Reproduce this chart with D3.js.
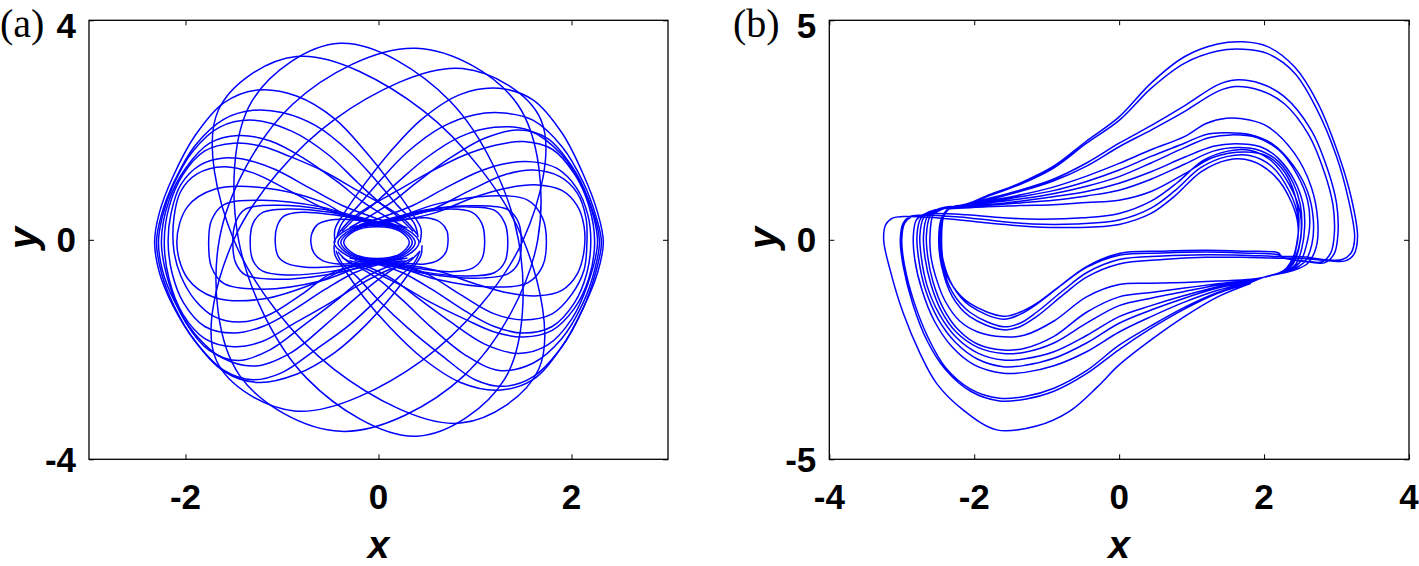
<!DOCTYPE html>
<html><head><meta charset="utf-8">
<script src="https://cdn.jsdelivr.net/npm/d3@7"></script>
<style>body{margin:0;background:#fff}</style>
</head><body>
<svg id="chart" width="1419" height="566"></svg>
<script>
// ---------- tick data ----------
const ticksAX = [-2, 0, 2];
const ticksAY = [-4, 0, 4];
const ticksBX = [-4, -2, 0, 2, 4];
const ticksBY = [-5, 0, 5];

// ---------- panel (a): central rings ----------
const ringsA = [
 [[0.32,-0.05],[0.22,0.16],[-0.02,0.24],[-0.25,0.16],[-0.36,-0.05],[-0.25,-0.26],[-0.02,-0.34],[0.22,-0.26]],
 [[0.35,-0.05],[0.24,0.17],[-0.02,0.26],[-0.27,0.17],[-0.39,-0.05],[-0.27,-0.27],[-0.02,-0.36],[0.24,-0.27]],
 [[0.38,-0.05],[0.26,0.18],[-0.02,0.27],[-0.29,0.18],[-0.42,-0.05],[-0.29,-0.28],[-0.02,-0.37],[0.26,-0.28]],
 [[0.42,-0.05],[0.29,0.19],[-0.02,0.29],[-0.32,0.19],[-0.46,-0.05],[-0.32,-0.29],[-0.02,-0.39],[0.29,-0.29]]
];
// ---------- panel (a): small horizontal lobes ----------
const lobesA = [
 [[-0.2,0.26],[0.05,0.32],[0.3,0.38],[0.5,0.4],[0.64,0.32],[0.71,0.16],[0.72,-0.04],[0.7,-0.22],[0.62,-0.37],[0.48,-0.44],[0.3,-0.43],[0.05,-0.4],[-0.2,-0.35]],
 [[-0.25,0.24],[0.05,0.33],[0.4,0.48],[0.75,0.56],[0.97,0.5],[1.07,0.3],[1.1,-0.04],[1.07,-0.35],[0.97,-0.52],[0.75,-0.58],[0.4,-0.52],[0.05,-0.42],[-0.25,-0.34]],
 [[-0.1,0.29],[0.15,0.36],[0.45,0.52],[0.9,0.6],[1.2,0.54],[1.31,0.3],[1.34,-0.04],[1.31,-0.4],[1.2,-0.6],[0.9,-0.66],[0.45,-0.58],[0.15,-0.45],[-0.1,-0.4]],
 [[-0.3,0.22],[0.0,0.33],[0.5,0.55],[1.0,0.62],[1.34,0.55],[1.45,0.32],[1.48,-0.04],[1.45,-0.42],[1.34,-0.62],[1.0,-0.7],[0.5,-0.62],[0.0,-0.43],[-0.3,-0.33]],
 [[-0.15,0.28],[0.15,0.38],[0.6,0.65],[1.15,0.8],[1.55,0.72],[1.7,0.4],[1.74,-0.04],[1.7,-0.48],[1.55,-0.78],[1.15,-0.86],[0.6,-0.72],[0.15,-0.47],[-0.15,-0.4]],
 [[0.2,0.26],[-0.05,0.32],[-0.3,0.37],[-0.5,0.36],[-0.63,0.28],[-0.69,0.12],[-0.7,-0.06],[-0.67,-0.24],[-0.58,-0.38],[-0.42,-0.44],[-0.25,-0.43],[0.0,-0.4],[0.2,-0.35]],
 [[0.25,0.24],[-0.05,0.33],[-0.45,0.45],[-0.8,0.5],[-0.98,0.43],[-1.05,0.25],[-1.07,-0.04],[-1.04,-0.3],[-0.95,-0.43],[-0.75,-0.5],[-0.4,-0.48],[-0.05,-0.42],[0.25,-0.33]],
 [[0.1,0.29],[-0.15,0.36],[-0.5,0.5],[-0.95,0.56],[-1.2,0.5],[-1.3,0.3],[-1.33,-0.04],[-1.3,-0.38],[-1.2,-0.57],[-0.95,-0.64],[-0.5,-0.58],[-0.15,-0.45],[0.1,-0.4]],
 [[0.3,0.22],[0.0,0.33],[-0.55,0.55],[-1.05,0.63],[-1.38,0.56],[-1.48,0.32],[-1.51,-0.04],[-1.48,-0.42],[-1.38,-0.64],[-1.05,-0.72],[-0.55,-0.64],[0.0,-0.43],[0.3,-0.33]],
 [[0.15,0.28],[-0.15,0.38],[-0.6,0.6],[-1.2,0.72],[-1.6,0.64],[-1.73,0.36],[-1.76,-0.04],[-1.73,-0.5],[-1.6,-0.8],[-1.2,-0.9],[-0.6,-0.75],[-0.15,-0.47],[0.15,-0.4]]
];
// ---------- panel (a): wide wings (right side, then left side) ----------
const wingsA = [
 [[-0.45,-0.05],[-0.45,0.2],[-0.35,0.5],[-0.15,1.0],[0.12,1.6],[0.45,2.2],[0.85,2.65],[1.25,2.76],[1.6,2.55],[1.9,1.95],[2.12,1.2],[2.27,0.5],[2.33,-0.04],[2.27,-0.6],[2.12,-1.25],[1.9,-1.95],[1.6,-2.55],[1.25,-2.74],[0.85,-2.6],[0.45,-2.15],[0.12,-1.6],[-0.15,-1.05],[-0.35,-0.55],[-0.45,-0.28],[-0.46,-0.1]],
 [[-0.43,0.05],[-0.38,0.3],[-0.22,0.6],[0.0,1.05],[0.3,1.6],[0.65,2.05],[1.0,2.28],[1.3,2.31],[1.6,2.18],[1.9,1.7],[2.12,1.05],[2.25,0.45],[2.31,-0.04],[2.25,-0.6],[2.12,-1.25],[1.9,-1.95],[1.6,-2.5],[1.3,-2.67],[1.0,-2.55],[0.65,-2.1],[0.3,-1.6],[0.0,-1.1],[-0.22,-0.68],[-0.38,-0.42],[-0.44,-0.2]],
 [[-0.38,0.15],[-0.25,0.38],[-0.05,0.65],[0.2,1.05],[0.5,1.5],[0.85,1.88],[1.2,2.05],[1.55,2.0],[1.9,1.55],[2.12,0.95],[2.24,0.42],[2.29,-0.04],[2.24,-0.55],[2.12,-1.15],[1.9,-1.8],[1.6,-2.25],[1.25,-2.38],[0.9,-2.1],[0.55,-1.6],[0.25,-1.1],[0.0,-0.72],[-0.22,-0.48],[-0.38,-0.32]],
 [[-0.3,0.22],[-0.1,0.42],[0.15,0.7],[0.4,1.05],[0.75,1.5],[1.1,1.85],[1.45,2.0],[1.75,1.85],[2.0,1.35],[2.17,0.75],[2.27,-0.04],[2.17,-0.8],[2.0,-1.45],[1.75,-1.92],[1.45,-2.07],[1.1,-1.9],[0.75,-1.5],[0.4,-1.05],[0.15,-0.72],[-0.1,-0.5],[-0.3,-0.38]],
 [[-0.42,0.1],[-0.3,0.35],[-0.1,0.6],[0.2,0.9],[0.55,1.25],[0.9,1.55],[1.2,1.72],[1.5,1.79],[1.8,1.65],[2.03,1.2],[2.18,0.62],[2.24,-0.04],[2.18,-0.7],[2.03,-1.25],[1.8,-1.65],[1.5,-1.77],[1.2,-1.68],[0.9,-1.45],[0.55,-1.15],[0.2,-0.8],[-0.1,-0.55],[-0.3,-0.42],[-0.42,-0.22]],
 [[-0.2,0.27],[0.05,0.42],[0.35,0.62],[0.7,0.95],[1.05,1.25],[1.35,1.4],[1.6,1.42],[1.85,1.3],[2.05,0.95],[2.17,0.45],[2.2,-0.04],[2.16,-0.6],[2.03,-1.15],[1.8,-1.58],[1.5,-1.7],[1.2,-1.58],[0.9,-1.3],[0.55,-0.9],[0.25,-0.6],[0.0,-0.45],[-0.25,-0.38]],
 [[-0.15,0.28],[0.2,0.38],[0.55,0.55],[0.95,0.9],[1.3,1.18],[1.6,1.27],[1.88,1.15],[2.06,0.85],[2.15,0.4],[2.16,-0.04],[2.13,-0.55],[2.0,-1.0],[1.8,-1.35],[1.5,-1.46],[1.2,-1.35],[0.85,-1.0],[0.5,-0.62],[0.2,-0.45],[-0.15,-0.4]],
 [[-0.1,0.29],[0.25,0.36],[0.6,0.5],[1.0,0.78],[1.35,0.95],[1.65,1.0],[1.9,0.9],[2.06,0.62],[2.13,0.25],[2.13,-0.2],[2.06,-0.62],[1.9,-0.92],[1.65,-1.02],[1.35,-0.97],[1.0,-0.8],[0.6,-0.56],[0.25,-0.45],[-0.1,-0.4]],
 [[0.43,-0.05],[0.44,0.2],[0.34,0.5],[0.14,1.0],[-0.13,1.6],[-0.45,2.2],[-0.85,2.62],[-1.25,2.73],[-1.6,2.5],[-1.9,1.9],[-2.13,1.15],[-2.27,0.5],[-2.32,-0.04],[-2.27,-0.6],[-2.13,-1.2],[-1.9,-1.85],[-1.6,-2.4],[-1.25,-2.6],[-0.85,-2.45],[-0.45,-2.05],[-0.13,-1.55],[0.14,-1.02],[0.34,-0.55],[0.44,-0.28],[0.45,-0.1]],
 [[0.41,0.05],[0.37,0.3],[0.21,0.6],[-0.01,1.05],[-0.3,1.6],[-0.65,2.08],[-1.0,2.32],[-1.3,2.36],[-1.6,2.2],[-1.9,1.72],[-2.12,1.05],[-2.25,0.45],[-2.3,-0.04],[-2.25,-0.6],[-2.12,-1.2],[-1.9,-1.85],[-1.6,-2.38],[-1.3,-2.55],[-1.0,-2.42],[-0.65,-2.0],[-0.3,-1.55],[-0.01,-1.08],[0.21,-0.68],[0.37,-0.42],[0.43,-0.2]],
 [[0.36,0.15],[0.23,0.38],[0.03,0.65],[-0.22,1.05],[-0.52,1.55],[-0.9,1.98],[-1.3,2.18],[-1.65,2.05],[-1.93,1.6],[-2.13,0.98],[-2.24,0.42],[-2.28,-0.04],[-2.24,-0.55],[-2.12,-1.1],[-1.9,-1.72],[-1.62,-2.15],[-1.28,-2.3],[-0.9,-2.05],[-0.55,-1.55],[-0.25,-1.08],[0.0,-0.72],[0.2,-0.48],[0.36,-0.32]],
 [[0.28,0.22],[0.08,0.42],[-0.17,0.7],[-0.42,1.05],[-0.77,1.48],[-1.12,1.8],[-1.45,1.9],[-1.75,1.76],[-2.0,1.3],[-2.17,0.72],[-2.25,-0.04],[-2.17,-0.8],[-2.0,-1.5],[-1.75,-2.02],[-1.45,-2.2],[-1.12,-2.0],[-0.77,-1.55],[-0.42,-1.08],[-0.17,-0.72],[0.08,-0.5],[0.28,-0.38]],
 [[0.4,0.1],[0.28,0.35],[0.08,0.6],[-0.22,0.9],[-0.57,1.25],[-0.92,1.52],[-1.2,1.7],[-1.5,1.76],[-1.8,1.62],[-2.03,1.18],[-2.17,0.6],[-2.22,-0.04],[-2.17,-0.72],[-2.03,-1.35],[-1.8,-1.8],[-1.5,-1.95],[-1.2,-1.85],[-0.9,-1.55],[-0.55,-1.2],[-0.2,-0.82],[0.1,-0.55],[0.3,-0.42],[0.42,-0.22]],
 [[0.18,0.27],[-0.07,0.42],[-0.37,0.62],[-0.72,0.95],[-1.07,1.28],[-1.35,1.45],[-1.6,1.49],[-1.85,1.36],[-2.05,1.0],[-2.15,0.48],[-2.18,-0.04],[-2.14,-0.6],[-2.02,-1.15],[-1.8,-1.58],[-1.5,-1.7],[-1.2,-1.58],[-0.9,-1.3],[-0.55,-0.9],[-0.25,-0.6],[0.0,-0.45],[0.25,-0.38]],
 [[0.13,0.28],[-0.2,0.38],[-0.55,0.56],[-0.95,0.92],[-1.3,1.22],[-1.6,1.33],[-1.88,1.2],[-2.05,0.88],[-2.12,0.4],[-2.12,-0.2],[-2.05,-0.65],[-1.9,-1.1],[-1.7,-1.4],[-1.45,-1.5],[-1.15,-1.38],[-0.8,-1.0],[-0.5,-0.62],[-0.2,-0.45],[0.13,-0.4]],
 [[0.08,0.29],[-0.25,0.37],[-0.6,0.7],[-1.2,0.95],[-1.7,0.92],[-1.98,0.6],[-2.09,-0.04],[-1.98,-0.7],[-1.7,-1.05],[-1.2,-1.08],[-0.6,-0.75],[-0.25,-0.46],[0.08,-0.4]]
];
// ---------- panel (a): tall tilted loops ----------
const tallA = [
 [[1.45,0],[0.74,2.53],[-0.4,3.58],[-1.31,2.53],[-1.45,0],[-0.74,-2.53],[0.4,-3.58],[1.31,-2.53]],
 [[1.65,0],[1.44,2.47],[0.39,3.49],[-0.89,2.47],[-1.65,0],[-1.44,-2.47],[-0.39,-3.49],[0.89,-2.47]],
 [[1.5,0],[0.46,2.36],[-0.85,3.34],[-1.66,2.36],[-1.5,0],[-0.46,-2.36],[0.85,-3.34],[1.66,-2.36]],
 [[1.5,0],[1.68,2.2],[0.87,3.12],[-0.45,2.2],[-1.5,0],[-1.68,-2.2],[-0.87,-3.12],[0.45,-2.2]]
];

// ---------- panel (b): lower half-orbits (right turn -> left turn) ----------
const bottomArcsB = [
 [[1.82,-0.99],[1.36,-1.3],[0.9,-1.75],[0.44,-2.28],[0,-2.85],[-0.3,-3.35],[-0.68,-3.9],[-1.14,-4.24],[-1.69,-4.33],[-2.15,-3.88],[-2.52,-3.27],[-2.75,-2.58],[-2.98,-1.67],[-3.16,-0.69],[-3.25,0.0],[-3.22,0.35],[-3.12,0.5],[-2.98,0.53]],
 [[1.82,-0.94],[1.36,-1.1],[0.9,-1.33],[0.44,-1.6],[0,-1.9],[-0.45,-2.35],[-0.9,-2.7],[-1.3,-2.86],[-1.6,-2.89],[-1.95,-2.72],[-2.25,-2.35],[-2.5,-1.8],[-2.68,-1.1],[-2.77,-0.4],[-2.79,0.1],[-2.74,0.48],[-2.62,0.64],[-2.45,0.7]],
 [[2.2,-0.42],[1.7,-0.4],[1.2,-0.4],[0.6,-0.45],[0,-0.55],[-0.45,-0.85],[-0.77,-1.25],[-1.14,-1.75],[-1.37,-1.98],[-1.6,-2.05],[-2.06,-1.75],[-2.3,-1.3],[-2.45,-0.6],[-2.49,0.05],[-2.45,0.5],[-2.36,0.7],[-2.2,0.78]],
 [[1.82,-0.97],[1.36,-1.22],[0.9,-1.58],[0.44,-2.02],[0,-2.5],[-0.45,-3.05],[-0.9,-3.45],[-1.3,-3.63],[-1.65,-3.67],[-2.05,-3.45],[-2.4,-2.95],[-2.65,-2.3],[-2.85,-1.45],[-2.98,-0.6],[-3.02,0.0],[-2.98,0.38],[-2.88,0.53],[-2.75,0.56]],
 [[1.82,-0.93],[1.36,-1.07],[0.9,-1.27],[0.44,-1.5],[0,-1.75],[-0.45,-2.18],[-0.9,-2.55],[-1.3,-2.71],[-1.6,-2.74],[-1.95,-2.58],[-2.25,-2.22],[-2.48,-1.7],[-2.65,-1.05],[-2.73,-0.4],[-2.75,0.1],[-2.7,0.5],[-2.58,0.66],[-2.4,0.72]],
 [[2.2,-0.38],[1.7,-0.35],[1.2,-0.34],[0.6,-0.37],[0,-0.45],[-0.45,-0.75],[-0.77,-1.15],[-1.14,-1.65],[-1.37,-1.9],[-1.6,-1.98],[-2.06,-1.65],[-2.3,-1.2],[-2.44,-0.55],[-2.47,0.07],[-2.43,0.52],[-2.34,0.72],[-2.18,0.79]],
 [[1.82,-0.96],[1.36,-1.2],[0.9,-1.54],[0.44,-1.96],[0,-2.4],[-0.45,-2.98],[-0.9,-3.38],[-1.3,-3.57],[-1.65,-3.61],[-2.05,-3.4],[-2.4,-2.9],[-2.63,-2.25],[-2.83,-1.42],[-2.96,-0.6],[-3.0,0.0],[-2.96,0.38],[-2.86,0.53],[-2.72,0.56]],
 [[1.82,-0.92],[1.36,-1.03],[0.9,-1.18],[0.44,-1.33],[0,-1.5],[-0.45,-1.9],[-0.9,-2.35],[-1.3,-2.56],[-1.6,-2.59],[-1.95,-2.45],[-2.25,-2.1],[-2.46,-1.6],[-2.6,-1.0],[-2.68,-0.4],[-2.7,0.1],[-2.65,0.52],[-2.53,0.68],[-2.35,0.74]],
 [[2.2,-0.34],[1.7,-0.3],[1.2,-0.28],[0.6,-0.3],[0,-0.35],[-0.45,-0.63],[-0.77,-1.0],[-1.14,-1.47],[-1.37,-1.7],[-1.6,-1.81],[-2.06,-1.5],[-2.29,-1.07],[-2.43,-0.46],[-2.45,0.07],[-2.42,0.53],[-2.33,0.72],[-2.15,0.79]],
 [[1.82,-0.95],[1.36,-1.15],[0.9,-1.42],[0.44,-1.75],[0,-2.1],[-0.45,-2.55],[-0.9,-2.87],[-1.3,-3.02],[-1.6,-3.04],[-2.0,-2.85],[-2.3,-2.45],[-2.55,-1.85],[-2.72,-1.15],[-2.82,-0.45],[-2.84,0.1],[-2.8,0.45],[-2.7,0.58],[-2.55,0.62]],
 [[1.82,-0.91],[1.36,-1.0],[0.9,-1.1],[0.44,-1.2],[0,-1.3],[-0.45,-1.65],[-0.9,-2.2],[-1.3,-2.47],[-1.6,-2.51],[-1.95,-2.38],[-2.22,-2.05],[-2.43,-1.55],[-2.57,-0.95],[-2.64,-0.4],[-2.66,0.1],[-2.61,0.54],[-2.5,0.7],[-2.32,0.75]],
 [[2.2,-0.3],[1.7,-0.26],[1.2,-0.24],[0.6,-0.26],[0,-0.31],[-0.45,-0.61],[-0.77,-0.99],[-1.14,-1.45],[-1.37,-1.65],[-1.6,-1.74],[-2.06,-1.45],[-2.29,-1.07],[-2.45,-0.46],[-2.47,0.07],[-2.43,0.53],[-2.34,0.72],[-2.15,0.79]],
 [[1.82,-0.9],[1.36,-0.94],[0.9,-0.97],[0.44,-0.99],[0,-1.02],[-0.45,-1.3],[-0.9,-1.85],[-1.3,-2.17],[-1.6,-2.21],[-1.95,-2.1],[-2.2,-1.85],[-2.4,-1.4],[-2.53,-0.85],[-2.6,-0.35],[-2.61,0.1],[-2.57,0.55],[-2.46,0.72],[-2.3,0.76]]
];
// ---------- panel (b): upper half-orbits (left turn -> right turn) ----------
const topArcsB = [
 [[-2.7,0.52],[-2.3,0.47],[-1.8,0.38],[-1.2,0.3],[-0.6,0.28],[0,0.35],[0.44,0.6],[0.77,1.0],[1.13,1.55],[1.5,1.82],[1.82,1.8],[2.15,1.45],[2.38,0.85],[2.47,0.3],[2.42,-0.31],[2.28,-0.69],[2.0,-0.85]],
 [[-2.15,0.79],[-1.83,1.0],[-1.37,1.29],[-0.91,1.67],[-0.45,2.25],[0,2.8],[0.44,3.57],[0.9,4.17],[1.36,4.46],[1.71,4.51],[2.05,4.4],[2.42,3.94],[2.74,3.12],[3.02,1.98],[3.2,0.98],[3.29,0.07],[3.24,-0.33],[3.12,-0.48],[2.9,-0.48],[2.5,-0.42]],
 [[-2.3,0.74],[-1.83,0.88],[-1.37,1.02],[-0.91,1.2],[-0.45,1.45],[0,1.74],[0.44,2.05],[0.9,2.35],[1.2,2.65],[1.48,2.77],[1.8,2.73],[2.05,2.58],[2.42,1.97],[2.65,1.21],[2.74,0.45],[2.72,-0.16],[2.6,-0.54],[2.36,-0.72],[2.0,-0.85]],
 [[-2.6,0.56],[-2.2,0.52],[-1.7,0.43],[-1.2,0.36],[-0.6,0.36],[0,0.45],[0.44,0.72],[0.77,1.12],[1.13,1.65],[1.5,1.9],[1.8,1.92],[2.1,1.68],[2.35,1.1],[2.47,0.5],[2.45,-0.1],[2.35,-0.6],[2.2,-0.76],[2.0,-0.85]],
 [[-2.2,0.77],[-1.83,0.98],[-1.37,1.26],[-0.91,1.63],[-0.45,2.2],[0,2.72],[0.44,3.45],[0.9,4.02],[1.36,4.3],[1.71,4.34],[2.05,4.24],[2.42,3.8],[2.72,3.0],[3.0,1.9],[3.16,0.95],[3.25,0.05],[3.2,-0.3],[3.08,-0.45],[2.88,-0.46],[2.5,-0.38]],
 [[-2.3,0.73],[-1.83,0.85],[-1.37,0.98],[-0.91,1.12],[-0.45,1.33],[0,1.59],[0.44,1.9],[0.9,2.2],[1.2,2.4],[1.45,2.44],[1.8,2.4],[2.1,2.2],[2.4,1.7],[2.6,1.1],[2.68,0.45],[2.66,-0.1],[2.56,-0.5],[2.36,-0.7],[2.0,-0.85]],
 [[-2.55,0.6],[-2.1,0.57],[-1.6,0.5],[-1.1,0.47],[-0.5,0.5],[0,0.6],[0.44,0.88],[0.8,1.3],[1.15,1.8],[1.5,2.02],[1.8,2.04],[2.1,1.8],[2.35,1.25],[2.5,0.6],[2.5,0.0],[2.4,-0.5],[2.25,-0.73],[2.0,-0.85]],
 [[-2.2,0.78],[-1.83,0.93],[-1.37,1.13],[-0.91,1.38],[-0.45,1.75],[0,2.2],[0.44,2.6],[0.9,3.05],[1.36,3.53],[1.6,3.64],[1.95,3.56],[2.28,3.26],[2.65,2.5],[2.88,1.59],[3.0,0.83],[3.02,0.15],[2.97,-0.31],[2.84,-0.52],[2.6,-0.5],[2.3,-0.42]],
 [[-2.35,0.72],[-1.83,0.83],[-1.37,0.93],[-0.91,1.05],[-0.45,1.22],[0,1.44],[0.44,1.75],[0.9,2.1],[1.25,2.33],[1.55,2.39],[1.9,2.33],[2.2,2.05],[2.45,1.5],[2.6,0.9],[2.63,0.35],[2.58,-0.15],[2.5,-0.5],[2.33,-0.7],[2.0,-0.85]],
 [[-2.4,0.72],[-1.83,0.8],[-1.37,0.88],[-0.91,0.98],[-0.45,1.1],[0,1.29],[0.44,1.55],[0.9,1.88],[1.3,2.13],[1.6,2.19],[1.95,2.12],[2.2,1.85],[2.42,1.35],[2.54,0.8],[2.56,0.3],[2.52,-0.2],[2.44,-0.55],[2.3,-0.72],[2.0,-0.85]],
 [[-2.25,0.76],[-1.83,0.9],[-1.37,1.1],[-0.91,1.34],[-0.45,1.68],[0,2.12],[0.44,2.5],[0.9,2.92],[1.36,3.38],[1.6,3.49],[1.95,3.4],[2.28,3.1],[2.62,2.38],[2.84,1.5],[2.95,0.8],[2.97,0.15],[2.92,-0.3],[2.8,-0.5],[2.55,-0.48],[2.25,-0.4]],
 [[-2.4,0.72],[-1.83,0.78],[-1.37,0.84],[-0.91,0.9],[-0.45,1.0],[0,1.13],[0.44,1.38],[0.9,1.72],[1.3,2.02],[1.65,2.1],[1.95,2.03],[2.2,1.78],[2.4,1.3],[2.5,0.8],[2.52,0.3],[2.48,-0.2],[2.4,-0.55],[2.28,-0.72],[2.0,-0.85]],
 [[-2.4,0.71],[-1.83,0.75],[-1.37,0.78],[-0.91,0.8],[-0.45,0.85],[0,0.9],[0.44,1.1],[0.9,1.5],[1.3,1.88],[1.75,2.0],[2.05,1.9],[2.28,1.55],[2.42,1.05],[2.48,0.5],[2.46,0.0],[2.4,-0.45],[2.28,-0.7],[2.0,-0.85]]
];

// ---------- layout ----------
const svg = d3.select("#chart");
const blue = "#0000ff";
const panels = [
  {id:"a", xd:[-3,3], yd:[-4,4], xr:[89,668], xt:ticksAX, yt:ticksAY, tag:"(a)", tagX:0},
  {id:"b", xd:[-4,4], yd:[-5,5], xr:[829.3,1409], xt:ticksBX, yt:ticksBY, tag:"(b)", tagX:733}
];
const yRange = [459.3, 20.3];

panels.forEach(p => {
  p.x = d3.scaleLinear().domain(p.xd).range(p.xr);
  p.y = d3.scaleLinear().domain(p.yd).range(yRange);
  const g = svg.append("g");
  const clipId = "clip" + p.id;
  svg.append("clipPath").attr("id", clipId).append("rect")
    .attr("x", p.xr[0]).attr("y", yRange[1]).attr("width", p.xr[1]-p.xr[0]).attr("height", yRange[0]-yRange[1]);
  p.plot = g.append("g").attr("clip-path", `url(#${clipId})`);
  p.g = g;
});

// ---------- draw panel (a) ----------
{
  const p = panels[0];
  const open = d3.line().x(d => p.x(d[0])).y(d => p.y(d[1])).curve(d3.curveCatmullRom.alpha(0.5));
  const closed = d3.line().x(d => p.x(d[0])).y(d => p.y(d[1])).curve(d3.curveCatmullRomClosed.alpha(0.5));
  const style = s => s.attr("fill","none").attr("stroke",blue).attr("stroke-width",1.5);
  p.plot.selectAll("path.ring").data(ringsA).join("path").attr("class","ring").attr("d", closed).call(style);
  p.plot.selectAll("path.tall").data(tallA).join("path").attr("class","tall").attr("d", closed).call(style);
  p.plot.selectAll("path.wing").data(wingsA).join("path").attr("class","wing").attr("d", open).call(style);
  p.plot.selectAll("path.lobe").data(lobesA).join("path").attr("class","lobe").attr("d", open).call(style);
}
// ---------- draw panel (b) ----------
{
  const p = panels[1];
  const traj = [];
  bottomArcsB.forEach((b, i) => { traj.push(...b); traj.push(...topArcsB[i]); });
  const open = d3.line().x(d => p.x(d[0])).y(d => p.y(d[1])).curve(d3.curveCatmullRom.alpha(0.5));
  p.plot.append("path").datum(traj).attr("d", open)
    .attr("fill","none").attr("stroke",blue).attr("stroke-width",1.5);
}

// ---------- frames, ticks, labels ----------
const tickFont = "'Liberation Sans', Arial, Helvetica, sans-serif";
panels.forEach(p => {
  const g = p.g;
  const [x0,x1] = p.xr, [yb0, yt0] = yRange;
  g.append("g").attr("transform",`translate(0,${yb0})`)
    .call(d3.axisBottom(p.x).tickValues(p.xt).tickSizeInner(-5).tickSizeOuter(0).tickFormat(""))
    .call(s => s.select(".domain").remove());
  g.append("g").attr("transform",`translate(0,${yt0})`)
    .call(d3.axisTop(p.x).tickValues(p.xt).tickSizeInner(-5).tickSizeOuter(0).tickFormat(""))
    .call(s => s.select(".domain").remove());
  g.append("g").attr("transform",`translate(${x0},0)`)
    .call(d3.axisLeft(p.y).tickValues(p.yt).tickSizeInner(-5).tickSizeOuter(0).tickFormat(""))
    .call(s => s.select(".domain").remove());
  g.append("g").attr("transform",`translate(${x1},0)`)
    .call(d3.axisRight(p.y).tickValues(p.yt).tickSizeInner(-5).tickSizeOuter(0).tickFormat(""))
    .call(s => s.select(".domain").remove());
  g.selectAll(".tick line").attr("stroke","#000").attr("stroke-width",1);
  g.append("rect").attr("x",x0).attr("y",yt0).attr("width",x1-x0).attr("height",yb0-yt0)
    .attr("fill","none").attr("stroke","#000").attr("stroke-width",1.3);

  g.selectAll("text.xt").data(p.xt).join("text").attr("class","xt")
    .attr("x", d => p.x(d)).attr("y", 496).attr("text-anchor","middle").attr("dominant-baseline","central")
    .attr("font-family", tickFont).attr("font-weight","bold").attr("font-size",35).text(d => String(d));
  g.selectAll("text.yt").data(p.yt).join("text").attr("class","yt")
    .attr("x", x0 - 13).attr("y", d => p.y(d) + (d === p.yd[1] ? 5 : 0)).attr("text-anchor","end").attr("dominant-baseline","central")
    .attr("font-family", tickFont).attr("font-weight","bold").attr("font-size",35).text(d => String(d));
  g.append("text").attr("x", (x0+x1)/2).attr("y", 558).attr("text-anchor","middle")
    .attr("font-family", tickFont).attr("font-weight","bold").attr("font-style","italic").attr("font-size",39).text("x");
  g.append("text").attr("transform",`translate(${x0-66},238) rotate(-90)`).attr("text-anchor","middle").attr("dominant-baseline","central")
    .attr("font-family", tickFont).attr("font-weight","bold").attr("font-style","italic").attr("font-size",40).text("y");
  g.append("text").attr("x", p.tagX).attr("y", 37)
    .attr("font-family","'Liberation Serif', 'Times New Roman', serif").attr("font-size",40).text(p.tag);
});
</script>
</body></html>
